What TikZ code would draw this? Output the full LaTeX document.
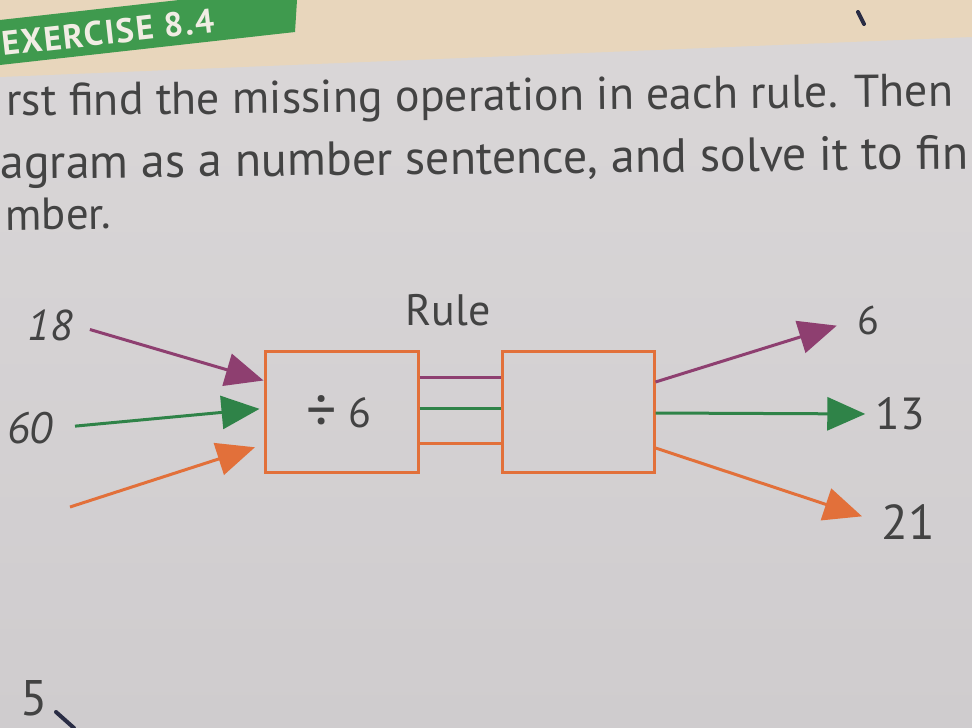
\documentclass[tikz,border=0pt]{standalone}
\usepackage{fontspec}
\setmainfont{PT Sans}
\usetikzlibrary{calc}
\usetikzlibrary{arrows.meta, positioning}

\definecolor{pagetop}{HTML}{DAD7D8}
\definecolor{pagelow}{HTML}{CFCCCE}
\definecolor{beige}{HTML}{E8D6BC}
\definecolor{bannergreen}{HTML}{3F9A4E}
\definecolor{cream}{HTML}{F1EDE4}
\definecolor{inkgrey}{HTML}{434343}
\definecolor{ruleorange}{HTML}{E2703A}
\definecolor{rulegreen}{HTML}{2F8348}
\definecolor{rulepurple}{HTML}{8E3F70}
\definecolor{penblue}{HTML}{2A2D45}

\tikzset{
  rulebox/.style={draw=ruleorange, line width=3pt, minimum height=121pt, inner sep=0pt},
  numlabel/.style={text=inkgrey, inner sep=2pt},
  lane/.style={line width=3pt},
  bigtip/.style={-{Triangle[length=38pt,width=33pt]}},
  para/.style={text=inkgrey, anchor=base west, inner sep=0pt, rotate=0.6},
}

\begin{document}
\begin{tikzpicture}[x=1pt, y=-1pt]
  \useasboundingbox (0,0) rectangle (972,728);
  \clip (0,0) rectangle (972,728);
  % page and header band
  \shade[top color=pagetop, bottom color=pagelow] (0,0) rectangle (972,728);
  \fill[beige] (0,0) -- (972,0) -- (972,37) -- (0,77) -- cycle;
  \fill[bannergreen] (0,20) -- (179,0) -- (297,0) -- (295,32) -- (0,65) -- cycle;
  \node[anchor=base west, rotate=6.4, text=cream, inner sep=0pt,
    font=\bfseries\fontsize{34}{36}\selectfont\addfontfeatures{LetterSpace=5}] (title) at (3,56) {EXERCISE 8.4};
  \draw[penblue, line width=4pt, line cap=round] (858,12) -- (864,24);

  % instructions
  \node[para, font=\fontsize{46}{50}\selectfont] (line1) at (6,116) {rst find the missing operation in each rule. Then};
  \node[para, font=\fontsize{48}{52}\selectfont] (line2) at (0,179) {agram as a number sentence, and solve it to fin};
  \node[para, font=\fontsize{45}{50}\selectfont] (line3) at (5,230) {mber.};

  % the two rule boxes
  \node[rulebox, minimum width=153pt] (box1) at (341.5,411.5) {};
  \node[text=inkgrey, font=\fontsize{42}{44}\selectfont] (op) at (339,413)
    {{\fontsize{60}{60}\selectfont\raisebox{-3pt}{÷}}\hspace{12pt}6};
  \node[rulebox, minimum width=152pt] (box2) at (578,411.5) {};
  \node[numlabel, font=\fontsize{44}{46}\selectfont] (rule) at (448,310) {Rule};

  % inputs
  \node[numlabel, font=\itshape\fontsize{43}{45}\selectfont] (n18) at (50,325) {18};
  \node[numlabel, font=\itshape\fontsize{44}{46}\selectfont] (n60) at (30,428) {60};
  \coordinate (tailC) at (70,507);

  \draw[lane, rulepurple, bigtip, shorten <=16pt] (n18.east) -- ([yshift=31pt]box1.west);
  \draw[lane, rulegreen, bigtip, shorten <=20pt, shorten >=4pt] (n60.east) -- ([yshift=3pt]box1.west);
  \draw[lane, ruleorange, bigtip, shorten >=9pt] (tailC) -- ([yshift=-33pt]box1.west);

  % lanes between the boxes
  \foreach \col/\dy in {rulepurple/34.5, rulegreen/3.5, ruleorange/-31.5}
    \draw[lane, \col] ([yshift=\dy pt]box1.east) -- ([yshift=\dy pt]box2.west);

  % outputs
  \node[numlabel, font=\fontsize{40}{42}\selectfont] (n6) at (868,320) {6};
  \node[numlabel, font=\fontsize{45}{47}\selectfont] (n13) at (900,414) {13};
  \node[numlabel, font=\fontsize{49}{51}\selectfont] (n21) at (908,522) {21};

  \draw[lane, rulepurple, bigtip, shorten >=19pt] ([yshift=29.5pt]box2.east) -- (n6.west);
  \draw[lane, rulegreen, bigtip, shorten >=8pt] ([yshift=-1.5pt]box2.east) -- (n13.west);
  \draw[lane, ruleorange, bigtip, shorten >=18pt] ([yshift=-36.5pt]box2.east) -- (n21.west);

  % next question
  \node[numlabel, font=\fontsize{50}{52}\selectfont] (n5) at (34,698) {5};
  \draw[penblue, line width=4pt, line cap=round] (56,712) -- (74,728);
\end{tikzpicture}
\end{document}
